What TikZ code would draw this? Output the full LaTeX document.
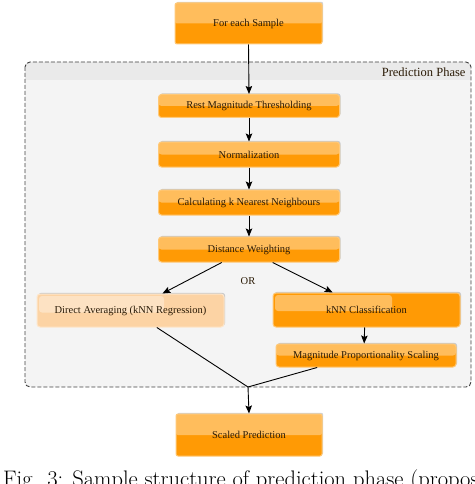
\documentclass[tikz,border=0pt]{standalone}
\usepackage{fontspec}
\newfontfamily\boxfont{Liberation Serif}
\usetikzlibrary{arrows.meta,shadows,calc}
\definecolor{orD}{HTML}{FF9A05}
\definecolor{orL}{HTML}{FFBE5C}
\definecolor{orB}{HTML}{FFC978}
\definecolor{peach}{HTML}{FCD3A4}
\definecolor{peachL}{HTML}{FEE6CB}
\definecolor{regfill}{HTML}{F4F4F4}
\definecolor{reghead}{HTML}{EAEAEA}
\definecolor{txt}{HTML}{2A1A05}
\tikzset{
  boxtext/.style={font=\boxfont\fontsize{10.5}{12}\selectfont, text=txt},
  stepbox/.style={boxtext, draw=orB, line width=1pt, rounded corners=3pt, fill=orD, inner sep=0pt,
    drop shadow={shadow xshift=1.2pt, shadow yshift=1.2pt, opacity=0.3, fill=black!60},
    path picture={\fill[white,opacity=0.35] (path picture bounding box.north west) rectangle (path picture bounding box.east);}},
  bigbox/.style={stepbox, rounded corners=2pt},
  lightbox/.style={boxtext, draw=peachL, line width=1pt, rounded corners=3pt, fill=peach, inner sep=0pt,
    drop shadow={shadow xshift=1.2pt, shadow yshift=1.2pt, opacity=0.3, fill=black!60},
    path picture={\fill[white,opacity=0.35,rounded corners=3pt] ([xshift=2pt,yshift=-2pt]path picture bounding box.north west) rectangle ([xshift=-60pt,yshift=-2pt]path picture bounding box.east);}},
  classbox/.style={boxtext, draw=orB, line width=1pt, rounded corners=3pt, fill=orD, inner sep=0pt,
    drop shadow={shadow xshift=1.2pt, shadow yshift=1.2pt, opacity=0.3, fill=black!60},
    path picture={\fill[white,opacity=0.35,rounded corners=3pt] ([xshift=2pt,yshift=-2pt]path picture bounding box.north west) rectangle ([xshift=-68pt,yshift=-1pt]path picture bounding box.east);}},
  conn/.style={line width=0.9pt, black},
  arr/.style={conn, -{Stealth[length=8pt,width=6.5pt,inset=1.5pt]}},
}
\begin{document}
\begin{tikzpicture}[x=1pt,y=-1pt]
\useasboundingbox (0,0) rectangle (474,484);
% region
\fill[regfill, rounded corners=5pt] (25,62) rectangle (471,387);
\fill[reghead, rounded corners=5pt] (25,62) rectangle (471,80);
\fill[reghead] (25,72) rectangle (471,80);
\draw[dashed, line width=0.9pt, black!75, rounded corners=5pt, dash pattern=on 4pt off 2pt] (25,62) rectangle (471,387);
\node[anchor=east, font=\boxfont\fontsize{12.5}{14}\selectfont, text=txt] (phase) at (469,72) {Prediction Phase};

\node[bigbox, minimum width=147pt, minimum height=41pt] (sample) at (248.5,23.5) {For each Sample};
\node[stepbox, minimum width=181pt, minimum height=23pt] (rmt) at (249,106) {Rest Magnitude Thresholding};
\node[stepbox, minimum width=181pt, minimum height=25pt] (norm) at (249,154.5) {Normalization};
\node[stepbox, minimum width=181pt, minimum height=25pt] (knn) at (249,202.5) {Calculating k Nearest Neighbours};
\node[stepbox, minimum width=181pt, minimum height=25pt] (dw) at (249,249.5) {Distance Weighting};
\node[boxtext] (or) at (248,281) {OR};
\node[lightbox, minimum width=187pt, minimum height=33pt] (da) at (130.5,310.5) {Direct Averaging (kNN Regression)};
\node[classbox, minimum width=187pt, minimum height=34pt] (kc) at (366.5,310) {kNN Classification};
\node[stepbox, minimum width=180pt, minimum height=23pt] (mps) at (366,355.5) {Magnitude Proportionality Scaling};
\node[bigbox, minimum width=146pt, minimum height=42pt] (sp) at (249,435) {Scaled Prediction};
\coordinate (m) at (248,387);

\draw[arr] (sample.south) -- (rmt.north);
\draw[arr] (rmt.south) -- (norm.north);
\draw[arr] (norm.south) -- (knn.north);
\draw[arr] (knn.south) -- (dw.north);
\draw[arr] ($(dw.south west)!0.35!(dw.south east)$) -- ($(da.north west)!0.67!(da.north east)$);
\draw[arr] ($(dw.south west)!0.63!(dw.south east)$) -- ($(kc.north west)!0.32!(kc.north east)$);
\draw[arr] ($(kc.south west)!0.49!(kc.south east)$) -- ($(mps.north west)!0.49!(mps.north east)$);
\draw[conn] ($(da.south west)!0.64!(da.south east)$) -- (m);
\draw[conn] ($(mps.south west)!0.23!(mps.south east)$) -- (m);
\draw[arr] (m) -- (sp.north);

\node[anchor=base west, font=\fontsize{22.5}{26}\selectfont, inner sep=0pt] (cap) at (3,486) {Fig. 3: Sample structure of prediction phase (proposed};
\end{tikzpicture}
\end{document}
